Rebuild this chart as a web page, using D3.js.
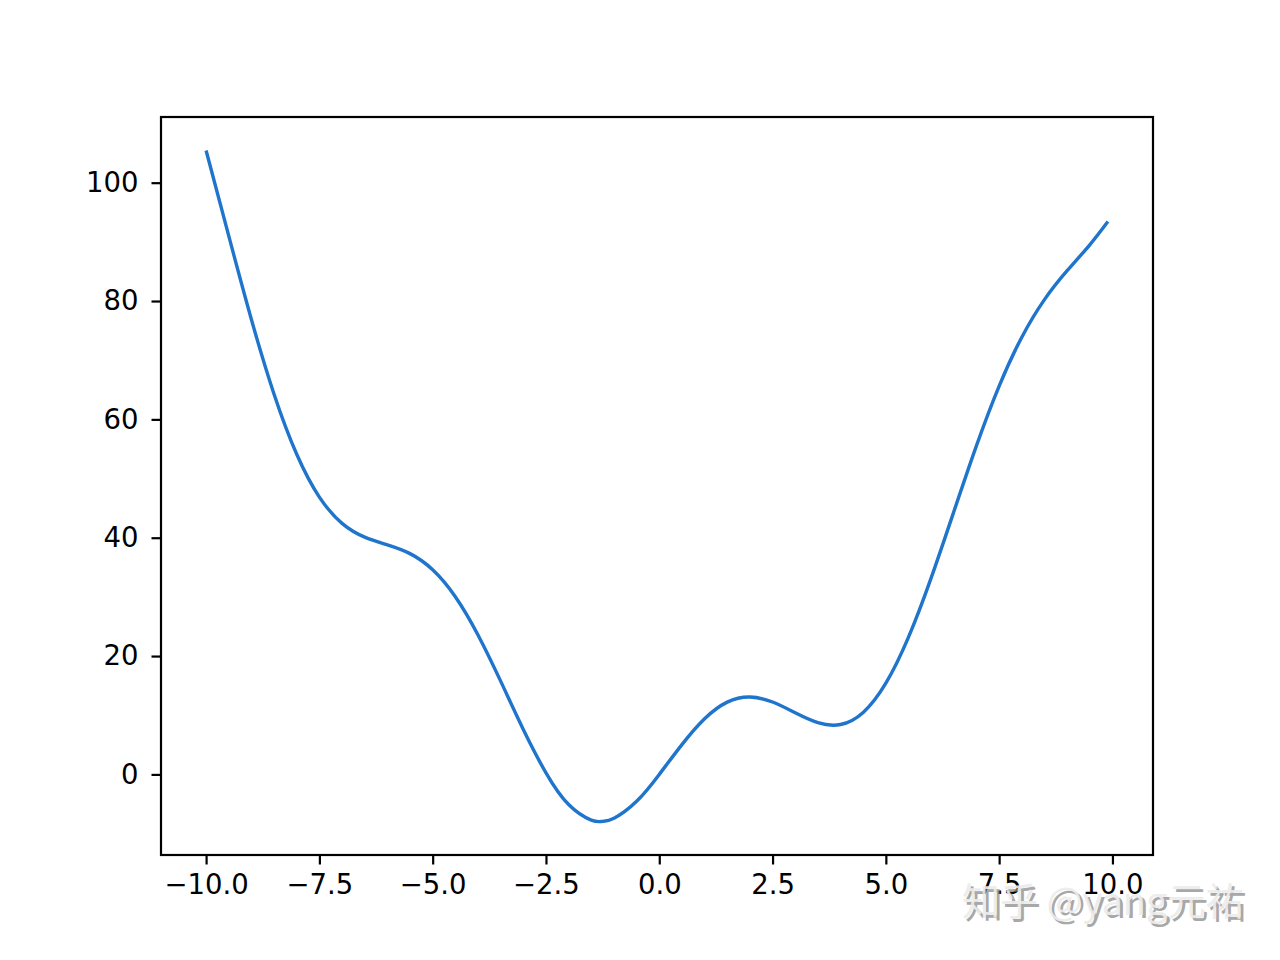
<!DOCTYPE html>
<html><head><meta charset="utf-8">
<script src="https://cdn.jsdelivr.net/npm/d3@7"></script>
<style>html,body{margin:0;padding:0;background:#fff;}svg{display:block;}</style>
</head><body>
<script>
const xs = [-10,-9.5,-9,-8.5,-8,-7.5,-7,-6.5,-6,-5.5,-5,-4.5,-4,-3.5,-3,-2.5,-2,-1.5,-1.25,-1,-0.5,0,0.5,1,1.5,2,2.5,3,3.5,4,4.5,5,5.5,6,6.5,7,7.5,8,8.5,9,9.5,9.9];
const ys = [105.44,91.0,76.88,64.26,54.11,46.87,42.43,40.10,38.79,37.31,34.59,30.03,23.57,15.76,7.59,0.27,-5.09,-7.72,-7.93,-7.41,-4.54,0,5.04,9.41,12.22,13.09,12.23,10.41,8.74,8.43,10.47,15.41,23.19,33.21,44.40,55.57,65.63,73.89,80.24,85.12,89.50,93.43];
const xTicks = [-10,-7.5,-5,-2.5,0,2.5,5,7.5,10];
const yTicks = [0,20,40,60,80,100];

const W=1280,H=960;
const L=161,R=1153,T=117,B=855;
const svg=d3.select("body").append("svg").attr("width",W).attr("height",H);
svg.append("rect").attr("width",W).attr("height",H).attr("fill","#ffffff");

const x=d3.scaleLinear().domain([-10.995,10.895]).range([L,R]);
const y=d3.scaleLinear().domain([-13.62,111.1]).range([B,T]);

const font="DejaVu Sans, sans-serif";
const fmt=d=>(d<0?"\u2212":"")+Math.abs(d).toFixed(1);

const xa=svg.append("g").attr("transform",`translate(0,${B})`)
  .call(d3.axisBottom(x).tickValues(xTicks).tickFormat(fmt).tickSize(9.5).tickPadding(10));
const ya=svg.append("g").attr("transform",`translate(${L},0)`)
  .call(d3.axisLeft(y).tickValues(yTicks).tickFormat(d3.format("d")).tickSize(9.5).tickPadding(13));
[xa,ya].forEach(a=>{
  a.select(".domain").remove();
  a.selectAll("line").attr("stroke","#000").attr("stroke-width",2.2);
  a.selectAll("text").attr("font-family",font).attr("font-size",27.5).attr("fill","#000");
});

const line=d3.line().x((d,i)=>x(xs[i])).y(d=>y(d)).curve(d3.curveNatural);
svg.append("path").datum(ys).attr("d",line).attr("fill","none")
  .attr("stroke","#1f74cc").attr("stroke-width",3.4).attr("stroke-linecap","butt");

svg.append("rect").attr("x",L).attr("y",T).attr("width",R-L).attr("height",B-T)
  .attr("fill","none").attr("stroke","#000").attr("stroke-width",2.2);

// watermark
const wm="知乎 @yang元祐";
svg.append("text").attr("x",965).attr("y",918).attr("font-family","Noto Sans CJK SC, sans-serif")
  .attr("font-size",38).attr("fill","#8c8c8c").attr("opacity",0.75).text(wm);
svg.append("text").attr("x",962).attr("y",915).attr("font-family","Noto Sans CJK SC, sans-serif")
  .attr("font-size",38).attr("fill","#ececec").attr("opacity",0.92).text(wm);
</script>
</body></html>
